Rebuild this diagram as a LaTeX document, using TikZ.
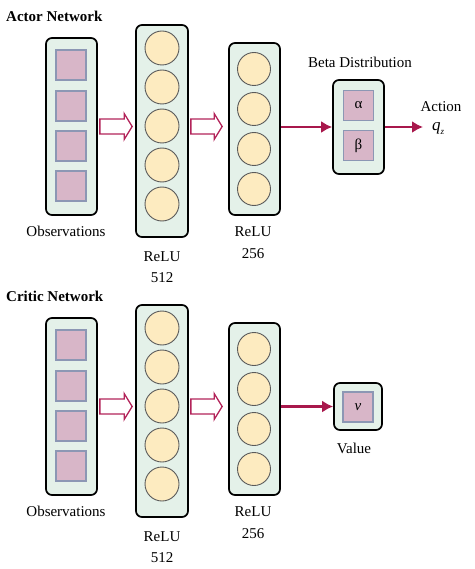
\documentclass[tikz,border=0pt]{standalone}
\usepackage{fontspec}
\setmainfont{Liberation Serif}
\usetikzlibrary{arrows.meta,calc}
\definecolor{boxfill}{HTML}{E4F1E9}
\definecolor{sqfill}{HTML}{D8B6C8}
\definecolor{sqdraw}{HTML}{8C97B4}
\definecolor{cirfill}{HTML}{FDEBC0}
\definecolor{cirdraw}{HTML}{5A5A5A}
\definecolor{arrred}{HTML}{A8184C}
\definecolor{hollowred}{HTML}{B3245A}
\tikzset{
  panel/.style={draw=black, line width=1.7pt, rounded corners=6pt, fill=boxfill, inner sep=0pt},
  sq/.style={draw=sqdraw, line width=1.5pt, fill=sqfill, minimum size=30pt, inner sep=0pt, font=\fontsize{15}{18}\selectfont},
  neuron/.style={circle, draw=cirdraw, line width=0.9pt, fill=cirfill, minimum size=#1, inner sep=0pt},
  neuron/.default=34pt,
  hollow/.style={draw=hollowred, line width=1.3pt, fill=white, line join=miter},
  flow/.style={draw=arrred, line width=2.4pt, -{Latex[length=11pt,width=12pt]}},
  lbl/.style={font=\fontsize{15}{18}\selectfont, inner sep=0pt},
  title/.style={font=\fontsize{15}{18}\selectfont\bfseries, inner sep=0pt, anchor=west}
}
% hollow block arrow from coordinate #1 to coordinate #2 (same y)
\newcommand\blockarrow[2]{%
  \draw[hollow] ($(#1)+(0,-7.5)$) -- ($(#2)+(-8,-7.5)$) -- ($(#2)+(-8,-13)$) -- (#2)
    -- ($(#2)+(-8,13)$) -- ($(#2)+(-8,7.5)$) -- ($(#1)+(0,7.5)$) -- cycle;
}
\newcommand\commonnet[2]{%
  \node[panel, minimum width=51pt, minimum height=177pt] (#1obs) at (71.5,{126.5+#2}) {};
  \node[sq] (#1s1) at (71,{65+#2}) {};
  \node[sq] (#1s2) at (71,{106+#2}) {};
  \node[sq] (#1s3) at (71,{146+#2}) {};
  \node[sq] (#1s4) at (71,{186+#2}) {};
  \node[lbl] (#1obslbl) at (66,{231+#2}) {Observations};
  \node[panel, minimum width=52pt, minimum height=212pt] (#1la) at (162,{131+#2}) {};
  \node[neuron] (#1a1) at (162,{48+#2}) {};
  \node[neuron] (#1a2) at (162,{87+#2}) {};
  \node[neuron] (#1a3) at (162,{126+#2}) {};
  \node[neuron] (#1a4) at (162,{165+#2}) {};
  \node[neuron] (#1a5) at (162,{204+#2}) {};
  \node[lbl] (#1relua) at (162,{257+#2}) {ReLU};
  \node[lbl] (#1numa) at (162,{278+#2}) {512};
  \node[panel, minimum width=51pt, minimum height=172pt] (#1lb) at (254.5,{129+#2}) {};
  \node[neuron=33pt] (#1b1) at (254,{69+#2}) {};
  \node[neuron=33pt] (#1b2) at (254,{109+#2}) {};
  \node[neuron=33pt] (#1b3) at (254,{149+#2}) {};
  \node[neuron=33pt] (#1b4) at (254,{189+#2}) {};
  \node[lbl] (#1relub) at (253,{232+#2}) {ReLU};
  \node[lbl] (#1numb) at (253,{254+#2}) {256};
  \coordinate (#1h1s) at ($(#1obs.east)+(2,0)$);
  \coordinate (#1h1e) at ($(#1la.west |- #1h1s)+(-3,0)$);
  \blockarrow{#1h1s}{#1h1e}
  \coordinate (#1h2s) at ($(#1la.east |- #1h1s)+(2,0)$);
  \coordinate (#1h2e) at ($(#1lb.west |- #1h1s)+(-6,0)$);
  \blockarrow{#1h2s}{#1h2e}
}
\begin{document}
\begin{tikzpicture}[x=1pt,y=-1pt]
\useasboundingbox[fill=white] (0,0) rectangle (474,569);
% Actor
\node[title] (atitle) at (6,16) {Actor Network};
\commonnet{A}{0}
\node[panel, minimum width=51pt, minimum height=94pt] (beta) at (358.5,127) {};
\node[sq] (alpha) at (358.5,105.5) {α};
\node[sq] (betasq) at (358.5,145.5) {β};
\node[lbl] (betalbl) at (360,62) {Beta Distribution};
\draw[flow] (beta.west -| Alb.east) -- (beta.west);
\coordinate (aend) at (423,127);
\draw[flow] (beta.east) -- (aend);
\node[lbl] (action) at (441,107) {Action};
\node[lbl, font=\fontsize{17}{18}\selectfont] (qz) at (438,128) {\textit{q}\raisebox{-4pt}{\fontsize{9}{10}\selectfont\textit{z}}};
% Critic
\node[title] (ctitle) at (6,296) {Critic Network};
\commonnet{C}{280}
\node[panel, minimum width=48pt, minimum height=47pt] (value) at (358,406.5) {};
\node[sq] (vsq) at (358,407) {\textit{v}};
\node[lbl] (vlbl) at (354,448) {Value};
\draw[flow] (value.west -| Clb.east) -- (value.west);
\end{tikzpicture}
\end{document}
